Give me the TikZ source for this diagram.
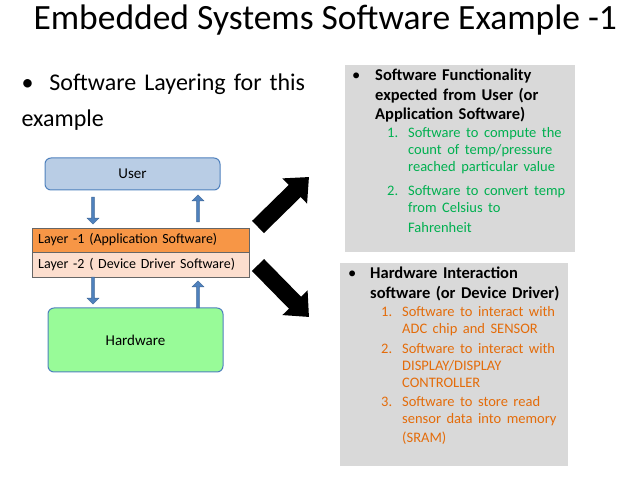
\documentclass[tikz,border=0pt]{standalone}
\usepackage{fontspec}
\setmainfont{Carlito}
\usetikzlibrary{shapes.arrows,arrows.meta}
\definecolor{ublue}{RGB}{185,205,229}
\definecolor{bdr}{RGB}{79,129,189}
\definecolor{l1}{RGB}{247,150,70}
\definecolor{l2}{RGB}{252,222,206}
\definecolor{hw}{RGB}{152,251,152}
\definecolor{gbox}{RGB}{217,217,217}
\definecolor{gtxt}{RGB}{0,176,80}
\definecolor{otxt}{RGB}{228,108,10}
\begin{document}
\begin{tikzpicture}[x=1pt,y=-1pt,
 blk/.style={draw=bdr,line width=1pt,rounded corners=6pt,minimum width=175pt,font=\fontsize{15}{17}\selectfont},
 lay/.style={draw=gray!80!black,minimum width=217pt,minimum height=24.5pt,anchor=west,font=\fontsize{14}{16}\selectfont,inner sep=0pt,text width=205pt,align=left},
 bar/.style={single arrow,fill=bdr,draw=bdr!80!black,single arrow head extend=4pt,minimum width=12pt,inner sep=1pt,minimum height=27pt},
 big/.style={line width=17pt,-{Triangle[length=20pt,width=34pt]}},
 gb/.style={fill=gbox,anchor=north west,inner sep=0pt}]
\useasboundingbox (0,0) rectangle (638,478);
\node[anchor=west,font=\fontsize{35.5}{40}\selectfont] (title) at (30,20) {Embedded Systems Software Example -1};
\node[anchor=north west,align=left,font=\fontsize{24}{36}\selectfont,text width=320pt] (sub) at (18,70) {\textbullet\ \ Software Layering for this\\example};
\node[blk,fill=ublue,minimum height=32pt] (user) at (132.5,174) {User};
\node[lay,fill=l1] (la1) at (32,240) {Layer -1 (Application Software)};
\node[lay,fill=l2] (la2) at (32,264.5) {Layer -2 ( Device Driver Software)};
\node[blk,fill=hw,minimum height=64pt] (hw) at (135.5,340) {Hardware};
\node[bar,rotate=-90] (a1) at (93,210) {};
\node[bar,rotate=90] (a2) at (198,209) {};
\node[bar,rotate=-90] (a3) at (93,290) {};
\node[bar,rotate=90] (a4) at (198,295) {};
\coordinate (s1) at (258,227); \coordinate (e1) at (309,177);
\coordinate (s2) at (258,265); \coordinate (e2) at (309,317);
\draw[big] (s1) -- (e1);
\draw[big] (s2) -- (e2);
\node[gb,minimum width=230pt,minimum height=187pt] (g1) at (345,65) {};
\node[anchor=north west,text width=225pt,align=left,inner sep=0pt,font=\fontsize{16.5}{19.5}\selectfont] (t1) at (353,69) {%
\hspace*{-1pt}\makebox[23pt][l]{\textbullet}\textbf{Software Functionality}\\\hspace*{22pt}\textbf{expected from User (or}\\\hspace*{22pt}\textbf{Application Software)}\\[1pt]
{\fontsize{14.5}{17}\selectfont\color{gtxt}\hspace*{34pt}\makebox[21pt][l]{1.}Software to compute the\\\hspace*{55pt}count of temp/pressure\\\hspace*{55pt}reached particular value\\[7pt]\hspace*{34pt}\makebox[21pt][l]{2.}Software to convert temp\\\hspace*{55pt}from Celsius to\\\hspace*{55pt}Fahrenheit}};
\node[gb,minimum width=228pt,minimum height=203pt] (g2) at (340,263) {};
\node[anchor=north west,text width=225pt,align=left,inner sep=0pt,font=\fontsize{16.5}{19.5}\selectfont] (t2) at (345,267) {%
\hspace*{3pt}\makebox[22pt][l]{\textbullet}\textbf{Hardware Interaction}\\\hspace*{25pt}\textbf{software (or Device Driver)}\\[1pt]
{\fontsize{14.5}{17}\selectfont\color{otxt}\hspace*{36pt}\makebox[21pt][l]{1.}Software to interact with\\\hspace*{57pt}ADC chip and SENSOR\\[3pt]\hspace*{36pt}\makebox[21pt][l]{2.}Software to interact with\\\hspace*{57pt}DISPLAY/DISPLAY\\\hspace*{57pt}CONTROLLER\\[2pt]\hspace*{36pt}\makebox[21pt][l]{3.}Software to store read\\\hspace*{57pt}sensor data into memory\\\hspace*{57pt}(SRAM)}};
\end{tikzpicture}
\end{document}
